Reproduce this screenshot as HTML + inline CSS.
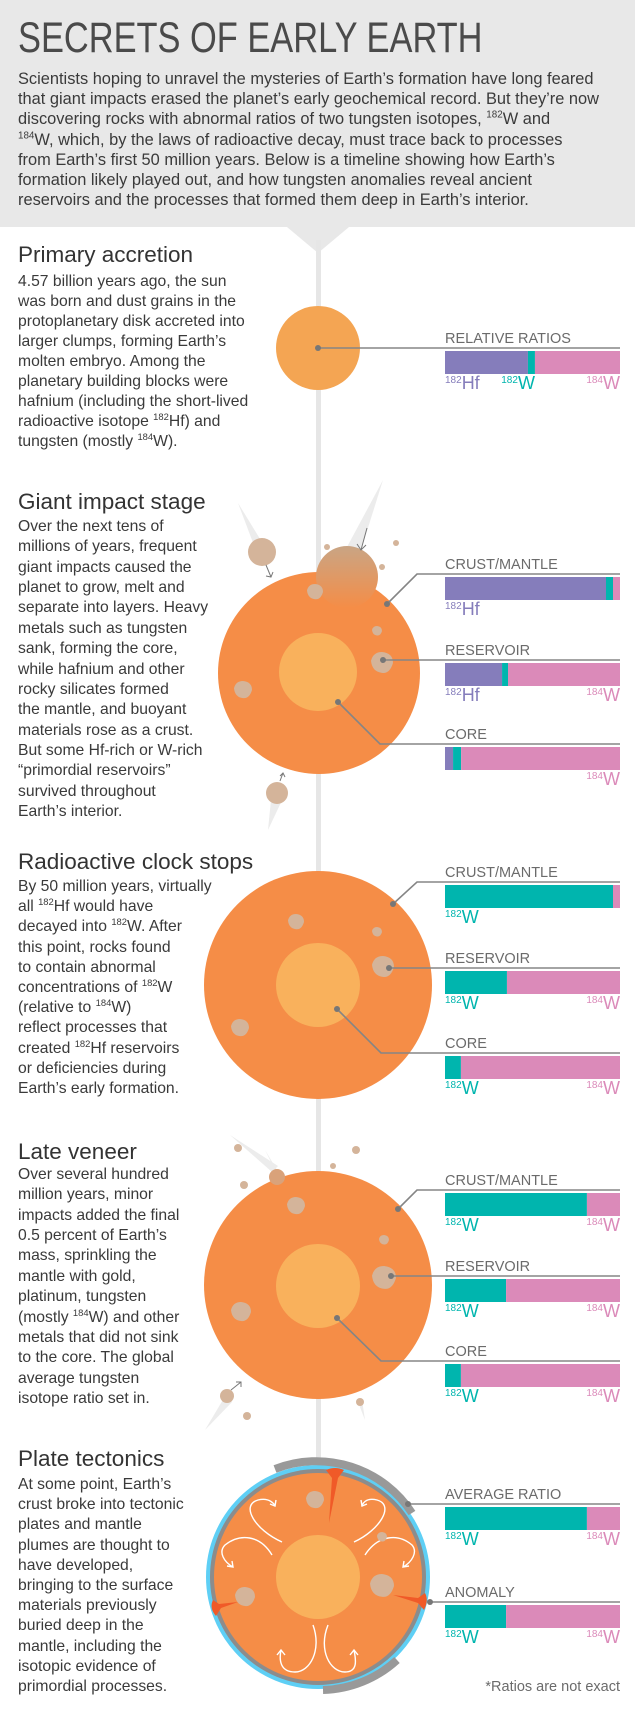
<!DOCTYPE html>
<html><head><meta charset="utf-8">
<style>
body{margin:0;background:#fff;}
#wrap{position:relative;width:635px;height:1720px;overflow:hidden;background:#fff;font-family:"Liberation Sans",sans-serif;color:#3a3a3a;}
.abs{position:absolute;white-space:nowrap;}
.title{left:18px;top:16px;font-size:43px;line-height:44px;color:#4a4a4a;transform:scaleX(0.80);transform-origin:left top;}
.intro{left:18px;top:69px;font-size:16.4px;line-height:20.17px;color:#3a3a3a;}
.h{left:18px;font-size:22.5px;line-height:28px;color:#333;}
.b{left:18px;font-size:15.7px;color:#3a3a3a;}
sup{font-size:0.6em;line-height:0;vertical-align:0.65em;}
</style></head>
<body>
<div id="wrap">
<svg id="g" width="635" height="1720" style="position:absolute;left:0;top:0">
  <rect x="0" y="0" width="635" height="227" fill="#e8e8e8"/>
  <polygon points="287,227 349,227 318,253" fill="#e8e8e8"/>
  <rect x="316" y="240" width="5" height="1225" fill="#e6e6e6"/>

  <circle cx="318" cy="348" r="42" fill="#f4a553"/>

  <g>
    <polygon points="238,503 258,556 268,552" fill="#ececec"/>
    <polygon points="383,480 340,560 356,566" fill="#ececec"/>
    <polygon points="268,830 272,790 285,794" fill="#ececec"/>
    <circle cx="319" cy="673" r="101" fill="#f58d47"/>
    <defs><linearGradient id="imp" x1="0" y1="0" x2="0" y2="1"><stop offset="0" stop-color="#c9a585"/><stop offset="1" stop-color="#f58d47"/></linearGradient></defs>
    <circle cx="347" cy="577" r="31" fill="url(#imp)"/>
    <circle cx="318" cy="672" r="39" fill="#f9b15c"/>
    <circle cx="262" cy="552" r="14" fill="#d4b49a"/>
    <circle cx="277" cy="793" r="11" fill="#d4b49a"/>
    <circle cx="327" cy="547" r="3" fill="#d4b49a"/>
    <circle cx="396" cy="543" r="3" fill="#d4b49a"/>
    <circle cx="382" cy="567" r="3" fill="#d4b49a"/>
    <path d="M367,528 L361,550 M357,544 L361,550 L366,545" stroke="#777" fill="none" stroke-width="1"/>
    <path d="M266,565 L271,577 M266,576 L271,577 L273,572" stroke="#777" fill="none" stroke-width="1"/>
    <path d="M280,781 L283,773 M280,776 L283,773 L285,777" stroke="#777" fill="none" stroke-width="1"/>
  </g>

  <circle cx="318" cy="985" r="114" fill="#f58d47"/>
  <circle cx="318" cy="985" r="42" fill="#f9b15c"/>

  <g>
    <polygon points="230,1135 272,1172 278,1166" fill="#ececec"/>
    <polygon points="265,1150 280,1175 276,1172" fill="#ececec"/>
    <polygon points="205,1430 224,1398 232,1402" fill="#ececec"/>
    <polygon points="365,1420 358,1402 362,1400" fill="#ececec"/>
    <circle cx="238" cy="1148" r="4" fill="#d4b49a"/>
    <circle cx="356" cy="1150" r="4" fill="#d4b49a"/>
    <circle cx="333" cy="1166" r="3" fill="#d4b49a"/>
    <circle cx="244" cy="1185" r="4" fill="#d4b49a"/>
    <circle cx="227" cy="1396" r="7" fill="#d4b49a"/>
    <circle cx="360" cy="1402" r="4" fill="#d4b49a"/>
    <circle cx="247" cy="1416" r="4" fill="#d4b49a"/>
    <path d="M231,1390 L241,1382 M236,1382 L241,1382 L241,1387" stroke="#777" fill="none" stroke-width="1"/>
  </g>
  <circle cx="318" cy="1285" r="114" fill="#f58d47"/>
  <circle cx="277" cy="1177" r="8" fill="#d9a27a"/>
  <circle cx="318" cy="1286" r="42" fill="#f9b15c"/>

  <g>
    <circle cx="318" cy="1577" r="112" fill="#5ecff5"/>
    <circle cx="318" cy="1577" r="108" fill="#8c8c8c"/>
    <circle cx="318" cy="1577" r="104" fill="#f58d47"/>
    <path d="M275,1469 A114,114 0 0 1 412,1513" stroke="#999" stroke-width="8" fill="none"/>
    <path d="M397,1660 A114,114 0 0 1 323,1690" stroke="#999" stroke-width="8" fill="none"/>
    <circle cx="318" cy="1577" r="42" fill="#f9b15c"/>
    <path d="M326,1470 Q335,1466 344,1470 L338,1478 L329,1523 L332,1478 Z" fill="#f05a28"/>
    <path d="M425,1593 Q429,1600 424,1610 L418,1603 L393,1595 L418,1598 Z" fill="#f05a28"/>
    <path d="M213,1600 Q209,1608 216,1616 L221,1608 L238,1602 L219,1604 Z" fill="#f05a28"/>
    <g fill="none" stroke="#fff" stroke-width="1.4">
      <path d="M282,1542 C255,1530 240,1505 258,1500 C270,1497 275,1505 275,1506"/><path d="M270,1504 L275,1506 L276,1500"/>
      <path d="M272,1555 C260,1535 240,1533 225,1545 C218,1552 224,1562 233,1567"/><path d="M227,1566 L233,1567 L232,1561"/>
      <path d="M354,1542 C380,1530 395,1505 377,1500 C365,1497 362,1505 362,1506"/><path d="M367,1504 L362,1506 L361,1500"/>
      <path d="M365,1555 C378,1535 398,1533 412,1545 C418,1552 412,1562 403,1567"/><path d="M409,1566 L403,1567 L404,1561"/>
      <path d="M313,1625 C322,1650 310,1672 295,1672 C280,1672 279,1660 281,1650"/><path d="M277,1655 L281,1650 L285,1655"/>
      <path d="M328,1625 C318,1650 330,1672 345,1672 C358,1672 356,1660 354,1650"/><path d="M350,1655 L354,1650 L358,1655"/>
    </g>
  </g>

  <g id="rocks" fill="#d4b49a"></g>
  <g id="bars"></g>
  <text x="620" y="1691" text-anchor="end" font-family="Liberation Sans, sans-serif" font-size="14.5" fill="#6b6b6b">*Ratios are not exact</text>
</svg>

<div class="abs title">SECRETS OF EARLY EARTH</div>
<div class="abs intro">Scientists hoping to unravel the mysteries of Earth’s formation have long feared<br>that giant impacts erased the planet’s early geochemical record. But they’re now<br>discovering rocks with abnormal ratios of two tungsten isotopes, <sup>182</sup>W and<br><sup>184</sup>W, which, by the laws of radioactive decay, must trace back to processes<br>from Earth’s first 50 million years. Below is a timeline showing how Earth’s<br>formation likely played out, and how tungsten anomalies reveal ancient<br>reservoirs and the processes that formed them deep in Earth’s interior.</div>

<div class="abs h" style="top:241px">Primary accretion</div>
<div class="abs b" style="top:272px;line-height:20px">4.57 billion years ago, the sun<br>was born and dust grains in the<br>protoplanetary disk accreted into<br>larger clumps, forming Earth’s<br>molten embryo. Among the<br>planetary building blocks were<br>hafnium (including the short-lived<br>radioactive isotope <sup>182</sup>Hf) and<br>tungsten (mostly <sup>184</sup>W).</div>

<div class="abs h" style="top:488px">Giant impact stage</div>
<div class="abs b" style="top:517px;line-height:20.36px">Over the next tens of<br>millions of years, frequent<br>giant impacts caused the<br>planet to grow, melt and<br>separate into layers. Heavy<br>metals such as tungsten<br>sank, forming the core,<br>while hafnium and other<br>rocky silicates formed<br>the mantle, and buoyant<br>materials rose as a crust.<br>But some Hf-rich or W-rich<br>“primordial reservoirs”<br>survived throughout<br>Earth’s interior.</div>

<div class="abs h" style="top:848px">Radioactive clock stops</div>
<div class="abs b" style="top:877px;line-height:20.2px">By 50 million years, virtually<br>all <sup>182</sup>Hf would have<br>decayed into <sup>182</sup>W. After<br>this point, rocks found<br>to contain abnormal<br>concentrations of <sup>182</sup>W<br>(relative to <sup>184</sup>W)<br>reflect processes that<br>created <sup>182</sup>Hf reservoirs<br>or deficiencies during<br>Earth’s early formation.</div>

<div class="abs h" style="top:1138px">Late veneer</div>
<div class="abs b" style="top:1165px;line-height:20.36px">Over several hundred<br>million years, minor<br>impacts added the final<br>0.5 percent of Earth’s<br>mass, sprinkling the<br>mantle with gold,<br>platinum, tungsten<br>(mostly <sup>184</sup>W) and other<br>metals that did not sink<br>to the core. The global<br>average tungsten<br>isotope ratio set in.</div>

<div class="abs h" style="top:1445px">Plate tectonics</div>
<div class="abs b" style="top:1475px;line-height:20.2px">At some point, Earth’s<br>crust broke into tectonic<br>plates and mantle<br>plumes are thought to<br>have developed,<br>bringing to the surface<br>materials previously<br>buried deep in the<br>mantle, including the<br>isotopic evidence of<br>primordial processes.</div>
</div>

<script>
// ---- chart data ----
const barCategories = ['RELATIVE RATIOS','CRUST/MANTLE','RESERVOIR','CORE','CRUST/MANTLE','RESERVOIR','CORE','CRUST/MANTLE','RESERVOIR','CORE','AVERAGE RATIO','ANOMALY'];
const hf182Share = [0.474,0.92,0.326,0.046,0,0,0,0,0,0,0,0];
const w182Share  = [0.04,0.04,0.034,0.046,0.96,0.354,0.091,0.811,0.349,0.091,0.811,0.349];
const w184Share  = [0.486,0.04,0.64,0.908,0.04,0.646,0.909,0.189,0.651,0.909,0.189,0.651];
const showHfLabel   = [1,1,1,0,0,0,0,0,0,0,0,0];
const showW182Label = [1,0,0,0,1,1,1,1,1,1,1,1];
const showW184Label = [1,0,1,1,0,1,1,1,1,1,1,1];

// ---- layout (not data) ----
const barRowTop = [351,577,663,747,885,971,1056,1193,1279,1364,1507,1605];
const leaderPts = [
  [[318,348]],
  [[387,604],[417,574]], [[383,660]], [[338,702],[380,744]],
  [[393,904],[417,882]], [[389,968]], [[337,1009],[381,1053]],
  [[398,1209],[417,1190]], [[391,1276]], [[337,1318],[381,1361]],
  [[408,1504]], [[430,1602]]
];
const X0 = 445, X1 = 620, BAR_H = 23;
function xScale(f){ return X0 + f*(X1-X0); }
const NS='http://www.w3.org/2000/svg';
const COL_HF='#857dbb', COL_W182='#00b5ae', COL_W184='#db8ab9';
const FONT='Liberation Sans, sans-serif';
const bars=document.getElementById('bars');
function mk(tag,attrs,parent){const e=document.createElementNS(NS,tag);for(const k in attrs)e.setAttribute(k,attrs[k]);(parent||bars).appendChild(e);return e;}
function isoLabel(x,y,num,sym,color,anchor){
  const t=mk('text',{x:x,y:y,fill:color,'font-family':FONT,'text-anchor':anchor||'start'});
  
  
  const a=mk('tspan',{'font-size':10,dy:-6},t);a.textContent=num;
  const b=mk('tspan',{'font-size':18,dy:6},t);b.textContent=sym;
  return t;
}
barCategories.forEach((cat,i)=>{
  const top=barRowTop[i], lineY=top-3;
  const pts=leaderPts[i].concat([[X1,lineY]]);
  const pl=mk('polyline',{points:pts.map(p=>p.join(',')).join(' '),fill:'none',stroke:'#858585','stroke-width':1.6});
  
  
  const d=mk('circle',{cx:pts[0][0],cy:pts[0][1],r:3,fill:'#777'});
  
  
  const lab=mk('text',{x:X0,y:top-8,'font-family':FONT,'font-size':14.5,fill:'#6b6b6b'});
  
  
  lab.textContent=cat;
  let acc=0;
  [[hf182Share[i],COL_HF,'segment-182hf'],[w182Share[i],COL_W182,'segment-182w'],[w184Share[i],COL_W184,'segment-184w']].forEach(s=>{
    if(s[0]<=0)return;
    const r=mk('rect',{x:xScale(acc),y:top,width:xScale(acc+s[0])-xScale(acc),height:BAR_H,fill:s[1]});
    
    
    acc+=s[0];
  });
  const ly=top+38;
  if(showHfLabel[i]) isoLabel(X0,ly,'182','Hf',COL_HF);
  if(showW182Label[i]){
    if(hf182Share[i]>0) isoLabel(xScale(hf182Share[i]+w182Share[i]),ly,'182','W',COL_W182,'end');
    else isoLabel(X0,ly,'182','W',COL_W182);
  }
  if(showW184Label[i]) isoLabel(X1,ly,'184','W',COL_W184,'end');
});

const rockCx=[315,377,382,243, 296,377,383,240, 296,384,384,241, 315,382,382,245];
const rockCy=[592,631,663,690, 922,932,967,1028, 1206,1240,1278,1312, 1500,1537,1586,1597];
const rockR =[8,5,11,9, 8,5,11,9, 9,5,12,10, 9,5,12,10];
const rg=document.getElementById('rocks');
rockCx.forEach((cx,i)=>{
  const r=rockR[i], cy=rockCy[i];
  const p=mk('path',{d:`M${cx-r},${cy-r*0.2} Q${cx-r*0.8},${cy-r} ${cx},${cy-r} Q${cx+r},${cy-r*0.9} ${cx+r},${cy} Q${cx+r*0.7},${cy+r} ${cx},${cy+r*0.9} Q${cx-r*0.9},${cy+r*0.8} ${cx-r},${cy-r*0.2}Z`},rg);
  
  
});
</script>
</body></html>
